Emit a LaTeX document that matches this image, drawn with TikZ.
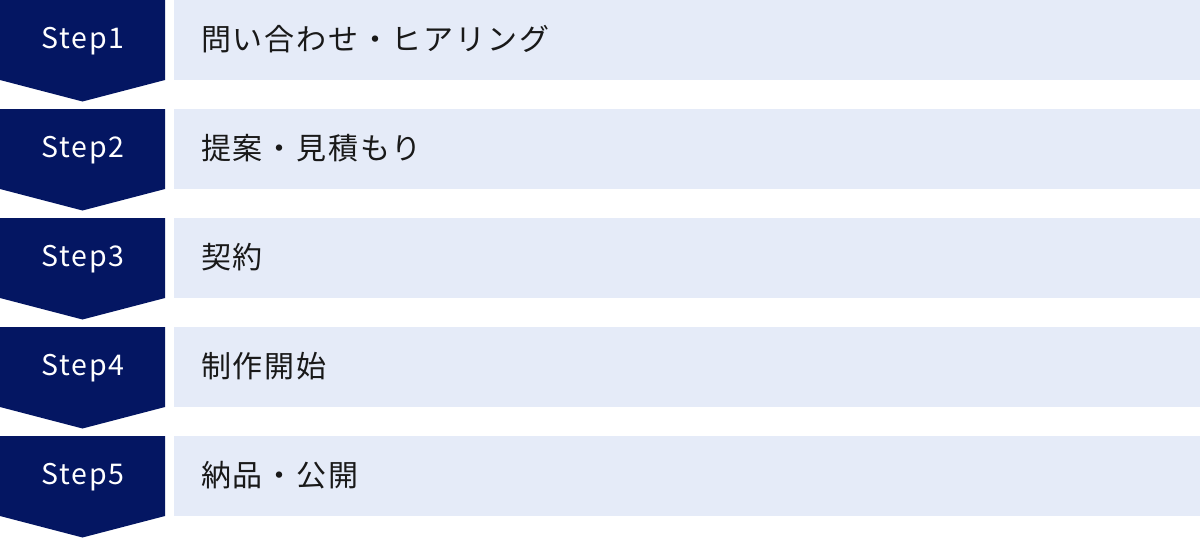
\documentclass[tikz,border=0pt]{standalone}
\usepackage{fontspec}
\newfontfamily\jp[LetterSpace=6]{Noto Sans CJK JP}
\newfontfamily\jpstep[LetterSpace=6]{Noto Sans CJK JP}
\definecolor{navy}{RGB}{4,22,98}
\definecolor{barblue}{RGB}{229,235,248}
\tikzset{
  stepshape/.style={fill=navy, draw=none},
  barbox/.style={fill=barblue, draw=none},
  steplabel/.style={text=white, font=\jpstep\fontsize{28.5}{28.5}\selectfont, anchor=center, inner sep=0pt},
  barlabel/.style={text=black!90, font=\jp\fontsize{30}{30}\selectfont, anchor=west, inner sep=0pt}
}
\begin{document}
\begin{tikzpicture}[x=1pt,y=-1pt]
\useasboundingbox (0,0) rectangle (1200,538);
\foreach \i/\txt in {1/問い合わせ・ヒアリング,2/提案・見積もり,3/契約,4/制作開始,5/納品・公開}{
  \pgfmathsetmacro{\t}{(\i-1)*109}
  \fill[stepshape] (0,\t) -- (165,\t) -- (165,\t+80) -- (82.5,\t+101.5) -- (0,\t+80) -- cycle;
  \fill[barbox] (174,\t) rectangle (1200,\t+80);
  \node[steplabel] (s\i) at (83,\t+41) {Step\i};
  \node[barlabel] (b\i) at (201,\t+39.5) {\txt};
}
\end{tikzpicture}
\end{document}
